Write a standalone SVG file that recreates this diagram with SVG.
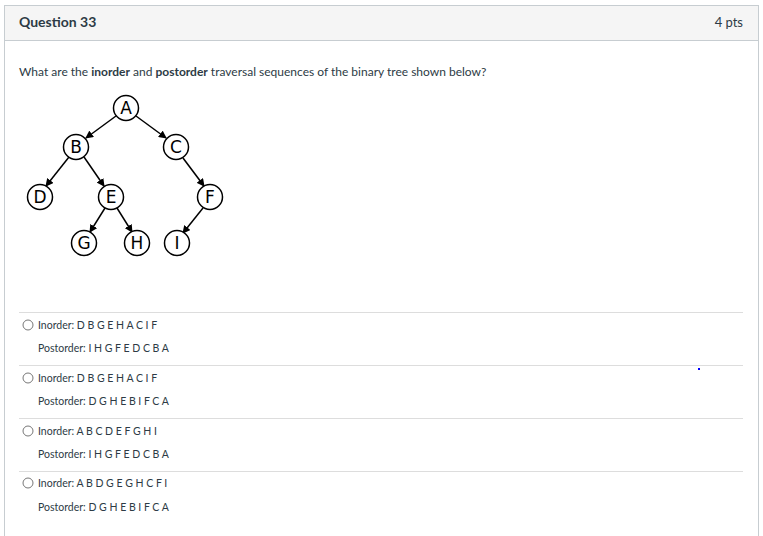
<svg xmlns="http://www.w3.org/2000/svg" width="763" height="536" viewBox="0 0 763 536">
<style>
.t{font-family:Lato,"Liberation Sans",sans-serif;fill:#2d3b45}
.opt{font-size:10.5px}
.node circle{fill:#fff;stroke:#000;stroke-width:1.5}
.node text{font-family:"DejaVu Sans","Liberation Sans",sans-serif;font-size:17px;fill:#000;text-anchor:middle}
.edge{stroke:#000;stroke-width:1.5;fill:none;marker-end:url(#ah)}
.sep{stroke:#ddd;stroke-width:1}
.radio{fill:#fff;stroke:#777;stroke-width:1}
</style>
<defs>
<marker id="ah" markerWidth="8" markerHeight="8" refX="7" refY="4" orient="auto" markerUnits="userSpaceOnUse">
<path d="M0,0 L8,4 L0,8 z" fill="#000"/>
</marker>
</defs>
<rect x="0" y="0" width="763" height="536" fill="#fff"/>
<rect x="4.5" y="5.5" width="754" height="540" fill="#fff" stroke="#c7cdd1"/>
<rect x="4.5" y="5.5" width="754" height="35" fill="#f5f5f5" stroke="#c7cdd1"/>
<text class="t" x="19" y="27" font-size="14" font-weight="bold">Question 33</text>
<text class="t" x="743" y="27" font-size="13" text-anchor="end">4 pts</text>
<text class="t" x="19" y="76" font-size="12">What are the <tspan font-weight="bold">inorder</tspan> and <tspan font-weight="bold">postorder</tspan> traversal sequences of the binary tree shown below?</text>

<g id="connectors">
<line class="edge" x1="116" y1="116" x2="86" y2="138"/>
<line class="edge" x1="136" y1="116" x2="166" y2="138"/>
<line class="edge" x1="69" y1="157" x2="46" y2="186"/>
<line class="edge" x1="84" y1="157" x2="104" y2="186"/>
<line class="edge" x1="183" y1="158" x2="204" y2="186"/>
<line class="edge" x1="105" y1="208" x2="90" y2="232"/>
<line class="edge" x1="117" y1="208" x2="132" y2="232"/>
<line class="edge" x1="203" y1="208" x2="183" y2="233"/>
</g>

<g id="node-A" class="node"><circle cx="126" cy="108" r="12.5"/><text x="126" y="114">A</text></g>
<g id="node-B" class="node"><circle cx="76" cy="147" r="12.5"/><text x="76" y="153">B</text></g>
<g id="node-C" class="node"><circle cx="176" cy="147" r="12.5"/><text x="176" y="153">C</text></g>
<g id="node-D" class="node"><circle cx="40" cy="197" r="12.5"/><text x="40" y="203">D</text></g>
<g id="node-E" class="node"><circle cx="111" cy="197" r="12.5"/><text x="111" y="203">E</text></g>
<g id="node-F" class="node"><circle cx="210" cy="197" r="12.5"/><text x="210" y="203">F</text></g>
<g id="node-G" class="node"><circle cx="84" cy="243" r="12.5"/><text x="84" y="249">G</text></g>
<g id="node-H" class="node"><circle cx="137" cy="243" r="12.5"/><text x="137" y="249">H</text></g>
<g id="node-I" class="node"><circle cx="177" cy="243" r="12.5"/><text x="177" y="249">I</text></g>

<line class="sep" x1="19" y1="312.5" x2="743" y2="312.5"/>
<line class="sep" x1="19" y1="365.5" x2="743" y2="365.5"/>
<line class="sep" x1="19" y1="418.5" x2="743" y2="418.5"/>
<line class="sep" x1="19" y1="471.5" x2="743" y2="471.5"/>

<circle class="radio" cx="28" cy="325" r="5"/>
<text class="t opt" x="38" y="329">Inorder: D B G E H A C I F</text>
<text class="t opt" x="38" y="352">Postorder: I H G F E D C B A</text>

<circle class="radio" cx="28" cy="378" r="5"/>
<text class="t opt" x="38" y="382">Inorder: D B G E H A C I F</text>
<text class="t opt" x="38" y="405">Postorder: D G H E B I F C A</text>

<circle class="radio" cx="28" cy="431" r="5"/>
<text class="t opt" x="38" y="435">Inorder: A B C D E F G H I</text>
<text class="t opt" x="38" y="458">Postorder: I H G F E D C B A</text>

<circle class="radio" cx="28" cy="483" r="5"/>
<text class="t opt" x="38" y="487">Inorder: A B D G E G H C F I</text>
<text class="t opt" x="38" y="511">Postorder: D G H E B I F C A</text>

<rect x="698" y="368" width="2" height="2" fill="#00f"/>
</svg>
